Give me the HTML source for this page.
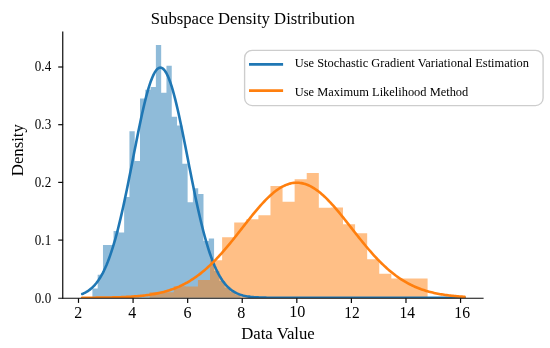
<!DOCTYPE html>
<html><head><meta charset="utf-8"><title>Subspace Density Distribution</title>
<style>
html,body{margin:0;padding:0;background:#fff;}
svg{display:block;font-family:"Liberation Serif","Times New Roman",serif;}
</style></head><body>
<svg width="550" height="348" viewBox="0 0 550 348">
<rect width="550" height="348" fill="#fff"/>
<path d="M92.40,297.80 L92.40,288.50 L97.69,288.50 L97.69,274.70 L102.98,274.70 L102.98,245.10 L108.27,245.10 L108.27,245.10 L113.56,245.10 L113.56,231.00 L118.85,231.00 L118.85,232.50 L124.14,232.50 L124.14,197.00 L129.43,197.00 L129.43,131.30 L134.72,131.30 L134.72,160.90 L140.01,160.90 L140.01,98.50 L145.30,98.50 L145.30,89.80 L150.59,89.80 L150.59,86.90 L155.88,86.90 L155.88,44.90 L161.17,44.90 L161.17,92.70 L166.46,92.70 L166.46,65.80 L171.75,65.80 L171.75,116.70 L177.04,116.70 L177.04,125.60 L182.33,125.60 L182.33,163.70 L187.62,163.70 L187.62,202.30 L192.91,202.30 L192.91,188.20 L198.20,188.20 L198.20,194.00 L203.49,194.00 L203.49,241.00 L208.78,241.00 L208.78,238.50 L214.07,238.50 L214.07,271.00 L219.36,271.00 L219.36,281.00 L224.65,281.00 L224.65,287.50 L229.94,287.50 L229.94,291.50 L235.23,291.50 L235.23,294.50 L240.52,294.50 L240.52,297.80 Z" fill="#1f77b4" fill-opacity="0.5"/>
<path d="M149.60,297.80 L149.60,292.30 L161.69,292.30 L161.69,292.30 L173.77,292.30 L173.77,286.30 L185.86,286.30 L185.86,286.50 L197.95,286.50 L197.95,280.00 L210.03,280.00 L210.03,260.30 L222.12,260.30 L222.12,237.30 L234.21,237.30 L234.21,222.50 L246.30,222.50 L246.30,219.30 L258.38,219.30 L258.38,215.20 L270.47,215.20 L270.47,186.10 L282.56,186.10 L282.56,201.80 L294.64,201.80 L294.64,179.20 L306.73,179.20 L306.73,173.00 L318.82,173.00 L318.82,207.70 L330.90,207.70 L330.90,207.60 L342.99,207.60 L342.99,224.30 L355.08,224.30 L355.08,233.20 L367.17,233.20 L367.17,259.20 L379.25,259.20 L379.25,273.70 L391.34,273.70 L391.34,278.40 L403.43,278.40 L403.43,278.50 L415.51,278.50 L415.51,278.60 L427.60,278.60 L427.60,297.80 Z" fill="#ff7f0e" fill-opacity="0.5"/>
<clipPath id="ax"><rect x="63.1" y="31.6" width="420.5" height="266.30"/></clipPath><g clip-path="url(#ax)">
<polyline points="82.21,293.99 83.49,293.45 84.76,292.84 86.03,292.16 87.31,291.41 88.58,290.56 89.86,289.63 91.13,288.59 92.41,287.44 93.68,286.18 94.96,284.79 96.23,283.26 97.50,281.59 98.78,279.77 100.05,277.79 101.33,275.63 102.60,273.30 103.88,270.79 105.15,268.08 106.43,265.17 107.70,262.05 108.97,258.72 110.25,255.18 111.52,251.41 112.80,247.42 114.07,243.21 115.35,238.77 116.62,234.12 117.90,229.24 119.17,224.15 120.44,218.86 121.72,213.37 122.99,207.69 124.27,201.85 125.54,195.84 126.82,189.70 128.09,183.43 129.37,177.07 130.64,170.63 131.91,164.14 133.19,157.62 134.46,151.11 135.74,144.63 137.01,138.21 138.29,131.88 139.56,125.68 140.84,119.63 142.11,113.78 143.38,108.14 144.66,102.76 145.93,97.67 147.21,92.88 148.48,88.45 149.76,84.38 151.03,80.70 152.31,77.44 153.58,74.63 154.85,72.26 156.13,70.37 157.40,68.97 158.68,68.05 159.95,67.64 161.23,67.72 162.50,68.31 163.78,69.40 165.05,70.97 166.32,73.03 167.60,75.55 168.87,78.52 170.15,81.92 171.42,85.74 172.70,89.94 173.97,94.50 175.25,99.39 176.52,104.59 177.79,110.06 179.07,115.77 180.34,121.70 181.62,127.80 182.89,134.05 184.17,140.41 185.44,146.86 186.72,153.35 187.99,159.87 189.26,166.38 190.54,172.86 191.81,179.28 193.09,185.61 194.36,191.83 195.64,197.93 196.91,203.88 198.19,209.67 199.46,215.28 200.73,220.71 202.01,225.93 203.28,230.95 204.56,235.75 205.83,240.33 207.11,244.69 208.38,248.82 209.66,252.74 210.93,256.43 212.20,259.90 213.48,263.15 214.75,266.20 216.03,269.04 217.30,271.68 218.58,274.13 219.85,276.40 221.13,278.49 222.40,280.41 223.67,282.18 224.95,283.80 226.22,285.28 227.50,286.63 228.77,287.85 230.05,288.96 231.32,289.96 232.60,290.86 233.87,291.68 235.14,292.41 236.42,293.06 237.69,293.64 238.97,294.16 240.24,294.62 241.52,295.03 242.79,295.39 244.07,295.71 245.34,295.99 246.61,296.24 247.89,296.45 249.16,296.64 250.44,296.81 251.71,296.95 252.99,297.07 254.26,297.18 255.54,297.27 256.81,297.35 258.08,297.42 259.36,297.48 260.63,297.53 261.91,297.57 263.18,297.61 264.46,297.64 265.73,297.67 267.01,297.69 268.28,297.71 269.55,297.72 270.83,297.74 272.10,297.75 273.38,297.76 274.65,297.76 275.93,297.77 277.20,297.78 278.48,297.78 279.75,297.78 281.02,297.79 282.30,297.79 283.57,297.79 284.85,297.79 286.12,297.79 287.40,297.80 288.67,297.80 289.95,297.80 291.22,297.80 292.49,297.80 293.77,297.80 295.04,297.80 296.32,297.80 297.59,297.80 298.87,297.80 300.14,297.80 301.42,297.80 302.69,297.80 303.96,297.80 305.24,297.80 306.51,297.80 307.79,297.80 309.06,297.80 310.34,297.80 311.61,297.80 312.89,297.80 314.16,297.80 315.43,297.80 316.71,297.80 317.98,297.80 319.26,297.80 320.53,297.80 321.81,297.80 323.08,297.80 324.36,297.80 325.63,297.80 326.90,297.80 328.18,297.80 329.45,297.80 330.73,297.80 332.00,297.80 333.28,297.80 334.55,297.80 335.83,297.80 337.10,297.80 338.37,297.80 339.65,297.80 340.92,297.80 342.20,297.80 343.47,297.80 344.75,297.80 346.02,297.80 347.30,297.80 348.57,297.80 349.84,297.80 351.12,297.80 352.39,297.80 353.67,297.80 354.94,297.80 356.22,297.80 357.49,297.80 358.77,297.80 360.04,297.80 361.31,297.80 362.59,297.80 363.86,297.80 365.14,297.80 366.41,297.80 367.69,297.80 368.96,297.80 370.24,297.80 371.51,297.80 372.78,297.80 374.06,297.80 375.33,297.80 376.61,297.80 377.88,297.80 379.16,297.80 380.43,297.80 381.71,297.80 382.98,297.80 384.25,297.80 385.53,297.80 386.80,297.80 388.08,297.80 389.35,297.80 390.63,297.80 391.90,297.80 393.18,297.80 394.45,297.80 395.72,297.80 397.00,297.80 398.27,297.80 399.55,297.80 400.82,297.80 402.10,297.80 403.37,297.80 404.65,297.80 405.92,297.80 407.19,297.80 408.47,297.80 409.74,297.80 411.02,297.80 412.29,297.80 413.57,297.80 414.84,297.80 416.12,297.80 417.39,297.80 418.66,297.80 419.94,297.80 421.21,297.80 422.49,297.80 423.76,297.80 425.04,297.80 426.31,297.80 427.59,297.80 428.86,297.80 430.13,297.80 431.41,297.80 432.68,297.80 433.96,297.80 435.23,297.80 436.51,297.80 437.78,297.80 439.06,297.80 440.33,297.80 441.60,297.80 442.88,297.80 444.15,297.80 445.43,297.80 446.70,297.80 447.98,297.80 449.25,297.80 450.53,297.80 451.80,297.80 453.07,297.80 454.35,297.80 455.62,297.80 456.90,297.80 458.17,297.80 459.45,297.80 460.72,297.80 462.00,297.80 463.27,297.80 464.54,297.80" fill="none" stroke="#1f77b4" stroke-width="2.6" stroke-linecap="round" stroke-linejoin="round"/>
<polyline points="82.21,297.75 83.49,297.74 84.76,297.74 86.03,297.73 87.31,297.73 88.58,297.72 89.86,297.71 91.13,297.71 92.41,297.70 93.68,297.69 94.96,297.68 96.23,297.67 97.50,297.65 98.78,297.64 100.05,297.63 101.33,297.61 102.60,297.60 103.88,297.58 105.15,297.56 106.43,297.54 107.70,297.52 108.97,297.49 110.25,297.47 111.52,297.44 112.80,297.41 114.07,297.38 115.35,297.34 116.62,297.31 117.90,297.27 119.17,297.22 120.44,297.18 121.72,297.13 122.99,297.08 124.27,297.02 125.54,296.96 126.82,296.90 128.09,296.83 129.37,296.76 130.64,296.68 131.91,296.60 133.19,296.51 134.46,296.42 135.74,296.32 137.01,296.22 138.29,296.11 139.56,295.99 140.84,295.86 142.11,295.73 143.38,295.59 144.66,295.44 145.93,295.28 147.21,295.11 148.48,294.94 149.76,294.75 151.03,294.55 152.31,294.34 153.58,294.12 154.85,293.89 156.13,293.65 157.40,293.39 158.68,293.12 159.95,292.84 161.23,292.54 162.50,292.23 163.78,291.90 165.05,291.56 166.32,291.20 167.60,290.82 168.87,290.42 170.15,290.01 171.42,289.58 172.70,289.13 173.97,288.66 175.25,288.17 176.52,287.66 177.79,287.12 179.07,286.57 180.34,285.99 181.62,285.39 182.89,284.77 184.17,284.12 185.44,283.45 186.72,282.76 187.99,282.03 189.26,281.29 190.54,280.51 191.81,279.72 193.09,278.89 194.36,278.04 195.64,277.16 196.91,276.25 198.19,275.31 199.46,274.35 200.73,273.36 202.01,272.34 203.28,271.30 204.56,270.22 205.83,269.12 207.11,267.99 208.38,266.83 209.66,265.65 210.93,264.43 212.20,263.19 213.48,261.93 214.75,260.64 216.03,259.32 217.30,257.98 218.58,256.61 219.85,255.22 221.13,253.80 222.40,252.37 223.67,250.91 224.95,249.44 226.22,247.94 227.50,246.42 228.77,244.89 230.05,243.34 231.32,241.78 232.60,240.20 233.87,238.62 235.14,237.02 236.42,235.41 237.69,233.79 238.97,232.17 240.24,230.55 241.52,228.92 242.79,227.29 244.07,225.66 245.34,224.03 246.61,222.41 247.89,220.79 249.16,219.19 250.44,217.59 251.71,216.00 252.99,214.43 254.26,212.88 255.54,211.34 256.81,209.82 258.08,208.33 259.36,206.86 260.63,205.41 261.91,204.00 263.18,202.61 264.46,201.26 265.73,199.94 267.01,198.66 268.28,197.41 269.55,196.21 270.83,195.04 272.10,193.92 273.38,192.85 274.65,191.82 275.93,190.84 277.20,189.91 278.48,189.03 279.75,188.20 281.02,187.43 282.30,186.71 283.57,186.05 284.85,185.44 286.12,184.89 287.40,184.41 288.67,183.98 289.95,183.61 291.22,183.31 292.49,183.07 293.77,182.88 295.04,182.77 296.32,182.71 297.59,182.72 298.87,182.79 300.14,182.92 301.42,183.11 302.69,183.37 303.96,183.69 305.24,184.07 306.51,184.51 307.79,185.01 309.06,185.56 310.34,186.18 311.61,186.85 312.89,187.58 314.16,188.37 315.43,189.21 316.71,190.10 317.98,191.04 319.26,192.03 320.53,193.07 321.81,194.16 323.08,195.29 324.36,196.46 325.63,197.67 326.90,198.93 328.18,200.22 329.45,201.54 330.73,202.90 332.00,204.30 333.28,205.72 334.55,207.17 335.83,208.64 337.10,210.14 338.37,211.66 339.65,213.20 340.92,214.76 342.20,216.34 343.47,217.93 344.75,219.53 346.02,221.13 347.30,222.75 348.57,224.38 349.84,226.00 351.12,227.63 352.39,229.26 353.67,230.89 354.94,232.52 356.22,234.14 357.49,235.75 358.77,237.36 360.04,238.95 361.31,240.54 362.59,242.11 363.86,243.67 365.14,245.22 366.41,246.75 367.69,248.26 368.96,249.75 370.24,251.22 371.51,252.68 372.78,254.11 374.06,255.52 375.33,256.90 376.61,258.26 377.88,259.60 379.16,260.91 380.43,262.20 381.71,263.46 382.98,264.69 384.25,265.90 385.53,267.08 386.80,268.23 388.08,269.36 389.35,270.45 390.63,271.52 391.90,272.56 393.18,273.57 394.45,274.56 395.72,275.52 397.00,276.44 398.27,277.35 399.55,278.22 400.82,279.07 402.10,279.89 403.37,280.68 404.65,281.45 405.92,282.19 407.19,282.91 408.47,283.60 409.74,284.26 411.02,284.90 412.29,285.52 413.57,286.12 414.84,286.69 416.12,287.24 417.39,287.77 418.66,288.27 419.94,288.76 421.21,289.23 422.49,289.67 423.76,290.10 425.04,290.51 426.31,290.90 427.59,291.27 428.86,291.63 430.13,291.97 431.41,292.30 432.68,292.61 433.96,292.90 435.23,293.18 436.51,293.45 437.78,293.70 439.06,293.94 440.33,294.17 441.60,294.39 442.88,294.59 444.15,294.79 445.43,294.97 446.70,295.15 447.98,295.31 449.25,295.47 450.53,295.62 451.80,295.76 453.07,295.89 454.35,296.01 455.62,296.13 456.90,296.24 458.17,296.34 459.45,296.44 460.72,296.53 462.00,296.62 463.27,296.70 464.54,296.78" fill="none" stroke="#ff7f0e" stroke-width="2.6" stroke-linecap="round" stroke-linejoin="round"/>
</g>
<g stroke="#0a0a0a" stroke-width="1.2" fill="none"><line x1="62.75" y1="31.6" x2="62.75" y2="298.8"/><line x1="58.2" y1="298.25" x2="483.6" y2="298.25"/>
<line x1="78.50" y1="298.25" x2="78.50" y2="302.90000000000003"/>
<line x1="133.08" y1="298.25" x2="133.08" y2="302.90000000000003"/>
<line x1="187.66" y1="298.25" x2="187.66" y2="302.90000000000003"/>
<line x1="242.24" y1="298.25" x2="242.24" y2="302.90000000000003"/>
<line x1="296.82" y1="298.25" x2="296.82" y2="302.90000000000003"/>
<line x1="351.40" y1="298.25" x2="351.40" y2="302.90000000000003"/>
<line x1="405.98" y1="298.25" x2="405.98" y2="302.90000000000003"/>
<line x1="460.56" y1="298.25" x2="460.56" y2="302.90000000000003"/>
<line x1="63.1" y1="240.10" x2="58.2" y2="240.10"/>
<line x1="63.1" y1="182.40" x2="58.2" y2="182.40"/>
<line x1="63.1" y1="124.70" x2="58.2" y2="124.70"/>
<line x1="63.1" y1="67.00" x2="58.2" y2="67.00"/>
</g>
<g fill="#000" text-anchor="middle">
<text transform="translate(78.15,318.0) scale(0.96,1)" font-size="16.6">2</text>
<text transform="translate(132.3,318.0) scale(0.96,1)" font-size="16.6">4</text>
<text transform="translate(187.6,318.2) scale(0.96,1)" font-size="16.8">6</text>
<text transform="translate(241.3,318.2) scale(0.96,1)" font-size="16.8">8</text>
<text transform="translate(297.3,317.1) scale(0.935,1)" font-size="17.3">10</text>
<text transform="translate(352.1,318.1) scale(0.935,1)" font-size="16.6">12</text>
<text transform="translate(407.2,318.0) scale(0.935,1)" font-size="16.6">14</text>
<text transform="translate(462.2,318.1) scale(0.935,1)" font-size="16.8">16</text>
</g>
<g font-size="14.3" fill="#000" text-anchor="end">
<text transform="translate(51.2,303.20) scale(0.918,1)">0.0</text>
<text transform="translate(51.2,244.50) scale(0.918,1)">0.1</text>
<text transform="translate(51.2,186.80) scale(0.918,1)">0.2</text>
<text transform="translate(51.2,129.10) scale(0.918,1)">0.3</text>
<text transform="translate(51.2,71.40) scale(0.918,1)">0.4</text>
</g>
<text x="252.8" y="23.8" font-size="16.7" text-anchor="middle">Subspace Density Distribution</text>
<text transform="translate(278,338.6) scale(0.968,1)" font-size="17.3" text-anchor="middle">Data Value</text>
<text transform="translate(22.5,150.2) rotate(-90)" font-size="16.7" text-anchor="middle">Density</text>
<rect x="244.6" y="50.3" width="298.5" height="55.3" rx="7.6" ry="7.6" fill="#fff" fill-opacity="0.8" stroke="#cdcdcd" stroke-width="1.35"/>
<line x1="249" y1="64.3" x2="283.1" y2="64.3" stroke="#1f77b4" stroke-width="2.8"/>
<line x1="249" y1="90.6" x2="283.1" y2="90.6" stroke="#ff7f0e" stroke-width="2.8"/>
<text transform="translate(294.8,67.4) scale(0.928,1)" font-size="13.4">Use Stochastic Gradient Variational Estimation</text>
<text transform="translate(294.8,95.6) scale(0.928,1)" font-size="13.4">Use Maximum Likelihood Method</text>
</svg>
</body></html>
